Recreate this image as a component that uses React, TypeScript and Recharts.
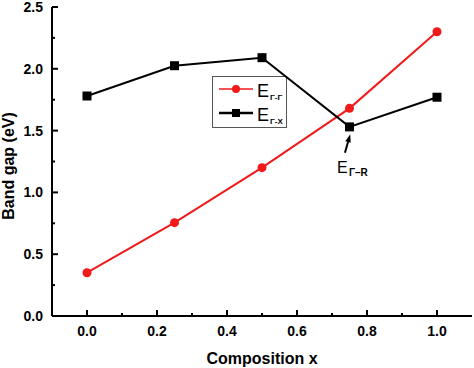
import React from 'react';
import { LineChart, Line, XAxis, YAxis, ReferenceLine, Customized } from 'recharts';

const compositions = [0, 0.25, 0.5, 0.75, 1.0];
const eGammaGamma = [0.35, 0.755, 1.2, 1.68, 2.3];
const eGammaX = [1.78, 2.025, 2.09, 1.53, 1.77];
const xTicks = [0, 0.1, 0.2, 0.3, 0.4, 0.5, 0.6, 0.7, 0.8, 0.9, 1.0];
const yTicks = [0, 0.25, 0.5, 0.75, 1.0, 1.25, 1.5, 1.75, 2.0, 2.25, 2.5];
const arrowFrom = { x: 0.737, y: 1.32 };
const arrowTo = { x: 0.752, y: 1.47 };

const data = compositions.map((x, i) => ({ x, gg: eGammaGamma[i], gx: eGammaX[i] }));

const FONT = '"Liberation Sans", Arial, sans-serif';
const RED = '#f01a1a';

const XTick = (props: any) => {
  const { x, y, payload } = props;
  const v = payload.value;
  const major = Math.abs(v * 5 - Math.round(v * 5)) < 1e-6;
  const axisY = y - 20;
  return (
    <g>
      <line x1={x} x2={x} y1={axisY} y2={axisY - (major ? 6 : 3)} stroke="#000" strokeWidth={2} />
      {major && (
        <text x={x} y={y} textAnchor="middle" fontFamily={FONT} fontWeight="bold" fontSize={14} fill="#000">
          {v.toFixed(1)}
        </text>
      )}
    </g>
  );
};

const YTick = (props: any) => {
  const { x, y, payload } = props;
  const v = payload.value;
  const major = Math.abs(v * 2 - Math.round(v * 2)) < 1e-6;
  const axisX = x + 9;
  return (
    <g>
      <line x1={axisX} x2={axisX + (major ? 6 : 3)} y1={y} y2={y} stroke="#000" strokeWidth={2} />
      {major && (
        <text x={x} y={y + 5} textAnchor="end" fontFamily={FONT} fontWeight="bold" fontSize={14} fill="#000">
          {v.toFixed(1)}
        </text>
      )}
    </g>
  );
};

const SquareDot = (props: any) => {
  const { cx, cy } = props;
  if (cx == null || cy == null) return null;
  return <rect x={cx - 4.5} y={cy - 4.5} width={9} height={9} fill="#000" />;
};

const RedDot = (props: any) => {
  const { cx, cy } = props;
  if (cx == null || cy == null) return null;
  return <circle cx={cx} cy={cy} r={4.5} fill={RED} />;
};

const ArrowShape = (props: any) => {
  const { x1, y1, x2, y2 } = props;
  if ([x1, y1, x2, y2].some((v) => v == null || isNaN(v))) return null;
  const dx = x2 - x1;
  const dy = y2 - y1;
  const len = Math.sqrt(dx * dx + dy * dy);
  const ux = dx / len;
  const uy = dy / len;
  const hl = 8;
  const hw = 2.8;
  const bx = x2 - ux * hl;
  const by = y2 - uy * hl;
  const p1 = `${x2},${y2}`;
  const p2 = `${bx - uy * hw},${by + ux * hw}`;
  const p3 = `${bx + uy * hw},${by - ux * hw}`;
  return (
    <g>
      <line x1={x1} y1={y1} x2={bx} y2={by} stroke="#000" strokeWidth={2} />
      <polygon points={`${p1} ${p2} ${p3}`} fill="#000" />
      <text x={x1 - 8} y={y1 + 20} fontFamily={FONT} fontSize={16} fill="#000">E</text>
      <text x={x1 + 4} y={y1 + 23} fontFamily={FONT} fontSize={10} fontWeight="bold" fill="#000">Γ–R</text>
    </g>
  );
};

const Overlay = () => (
  <g>
    <text
      transform="translate(14,166) rotate(-90)"
      textAnchor="middle"
      fontFamily={FONT}
      fontWeight="bold"
      fontSize={16}
      fill="#000"
    >
      Band gap (eV)
    </text>
    <text x={262} y={364} textAnchor="middle" fontFamily={FONT} fontWeight="bold" fontSize={16} fill="#000">
      Composition x
    </text>
    <rect x={212.5} y={76.5} width={74} height={51} fill="#fff" stroke="#555" strokeWidth={1} />
    <line x1={219} x2={253} y1={89} y2={89} stroke={RED} strokeWidth={1.5} />
    <circle cx={236} cy={89} r={4} fill={RED} />
    <text x={257} y={97} fontFamily={FONT} fontSize={18} fill="#000">E</text>
    <text x={270} y={100} fontFamily={FONT} fontSize={8} fontWeight="bold" fill="#000">Γ-Γ</text>
    <line x1={219} x2={253} y1={113} y2={113} stroke="#000" strokeWidth={2.5} />
    <rect x={232} y={109} width={8} height={8} fill="#000" />
    <text x={257} y={121} fontFamily={FONT} fontSize={18} fill="#000">E</text>
    <text x={270} y={124} fontFamily={FONT} fontSize={8} fontWeight="bold" fill="#000">Γ-X</text>
  </g>
);

export default function App() {
  return (
    <div style={{ position: 'absolute', left: 0, top: 0, background: '#fff' }}>
      <LineChart width={474} height={368} data={data} margin={{ top: 7, right: 2, left: 0, bottom: 0 }}>
        <XAxis
          dataKey="x"
          type="number"
          domain={[-0.1, 1.1]}
          ticks={xTicks}
          interval={0}
          height={52}
          tickSize={0}
          tickMargin={20}
          tickLine={false}
          tick={<XTick />}
          axisLine={{ stroke: '#000', strokeWidth: 2 }}
        />
        <XAxis
          xAxisId="top"
          orientation="top"
          type="number"
          domain={[-0.1, 1.1]}
          height={0}
          tick={false}
          tickLine={false}
          axisLine={{ stroke: '#000', strokeWidth: 2 }}
        />
        <YAxis
          type="number"
          domain={[0, 2.5]}
          ticks={yTicks}
          interval={0}
          width={52}
          tickSize={0}
          tickMargin={9}
          tickLine={false}
          tick={<YTick />}
          axisLine={{ stroke: '#000', strokeWidth: 2 }}
        />
        <YAxis
          yAxisId="right"
          orientation="right"
          type="number"
          domain={[0, 2.5]}
          width={0}
          tick={false}
          tickLine={false}
          axisLine={{ stroke: '#000', strokeWidth: 2 }}
        />
        <Line
          dataKey="gg"
          stroke={RED}
          strokeWidth={2}
          dot={<RedDot />}
          activeDot={false}
          isAnimationActive={false}
        />
        <Line
          dataKey="gx"
          stroke="#000"
          strokeWidth={2}
          dot={<SquareDot />}
          activeDot={false}
          isAnimationActive={false}
        />
        <ReferenceLine
          segment={[arrowFrom, arrowTo]}
          stroke="#000"
          shape={<ArrowShape />}
          ifOverflow="visible"
        />
        <Customized component={<Overlay />} />
      </LineChart>
    </div>
  );
}
